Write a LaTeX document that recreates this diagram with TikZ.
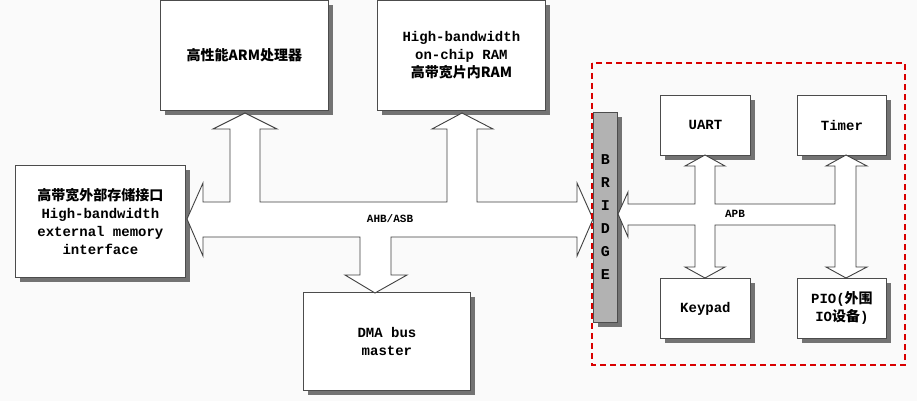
\documentclass[tikz,border=0pt]{standalone}
\usepackage{fontspec}
\setmonofont{Liberation Mono}
\newfontfamily\cjk{Noto Sans CJK SC}
\usetikzlibrary{shadows}
\begin{document}
\begin{tikzpicture}[x=1pt,y=-1pt,
  box/.style={draw=black!70,line width=0.8pt,fill=white,inner sep=0pt,anchor=north west,align=center,
    font=\ttfamily\bfseries\fontsize{14}{18}\selectfont,
    drop shadow={shadow xshift=5pt,shadow yshift=-5pt,fill=black!55,opacity=1}},
  bus/.style={draw=black!75,line width=0.9pt,fill=white},
  lbl/.style={font=\ttfamily\bfseries\fontsize{11}{13}\selectfont}]
\useasboundingbox[fill=black!2] (0,0) rectangle (917,401);
\node[box,minimum width=168,minimum height=110] (arm) at (160,0) {{\cjk\bfseries 高性能ARM处理器}};
\node[box,minimum width=168,minimum height=110] (ram) at (377,0) {High-bandwidth\\on-chip RAM\\{\cjk\bfseries 高带宽片内RAM}};
\node[box,minimum width=170,minimum height=112] (ext) at (15,165) {{\cjk\bfseries 高带宽外部存储接口}\\High-bandwidth\\external memory\\interface};
\node[box,minimum width=167,minimum height=98] (dma) at (303,292) {DMA bus\\master};
\node[box,fill=black!30,minimum width=24,minimum height=210,font=\ttfamily\bfseries\fontsize{15}{23}\selectfont] (br) at (593,112) {B\\R\\I\\D\\G\\E};
\node[box,minimum width=90,minimum height=60] (uart) at (660,95) {UART};
\node[box,minimum width=89,minimum height=60] (timer) at (797,95) {Timer};
\node[box,minimum width=90,minimum height=60] (key) at (660,278) {Keypad};
\node[box,minimum width=89,minimum height=60] (pio) at (797,278) {PIO({\cjk\bfseries 外围}\\IO{\cjk\bfseries 设备})};
\draw[bus] (187,219) -- (203,183) -- (203,202) -- (230,202) -- (230,129) -- (213,129) -- (245,113) -- (277,129) -- (260,129) -- (260,202) -- (447,202) -- (447,129) -- (432,129) -- (462,113) -- (493,129) -- (477,129) -- (477,202) -- (577,202) -- (577,183) -- (593,219) -- (577,256) -- (577,237) -- (391,237) -- (391,275) -- (407,275) -- (375,293) -- (345,275) -- (360,275) -- (360,237) -- (203,237) -- (203,256) -- cycle;
\node[lbl] (ahb) at (390,219) {AHB/ASB};
\draw[bus] (618,214) -- (628,192) -- (628,204) -- (695,204) -- (695,166) -- (685,166) -- (705,155) -- (725,166) -- (715,166) -- (715,204) -- (835,204) -- (835,166) -- (826,166) -- (846,155) -- (867,166) -- (856,166) -- (856,267) -- (867,267) -- (846,278) -- (826,267) -- (835,267) -- (835,225) -- (715,225) -- (715,267) -- (725,267) -- (705,278) -- (685,267) -- (695,267) -- (695,225) -- (628,225) -- (628,237) -- cycle;
\node[lbl] (apb) at (735,214) {APB};
\draw[red!85!black,dash pattern=on 6pt off 4pt,line width=1.3pt] (592,63) rectangle (905,365);
\end{tikzpicture}
\end{document}
